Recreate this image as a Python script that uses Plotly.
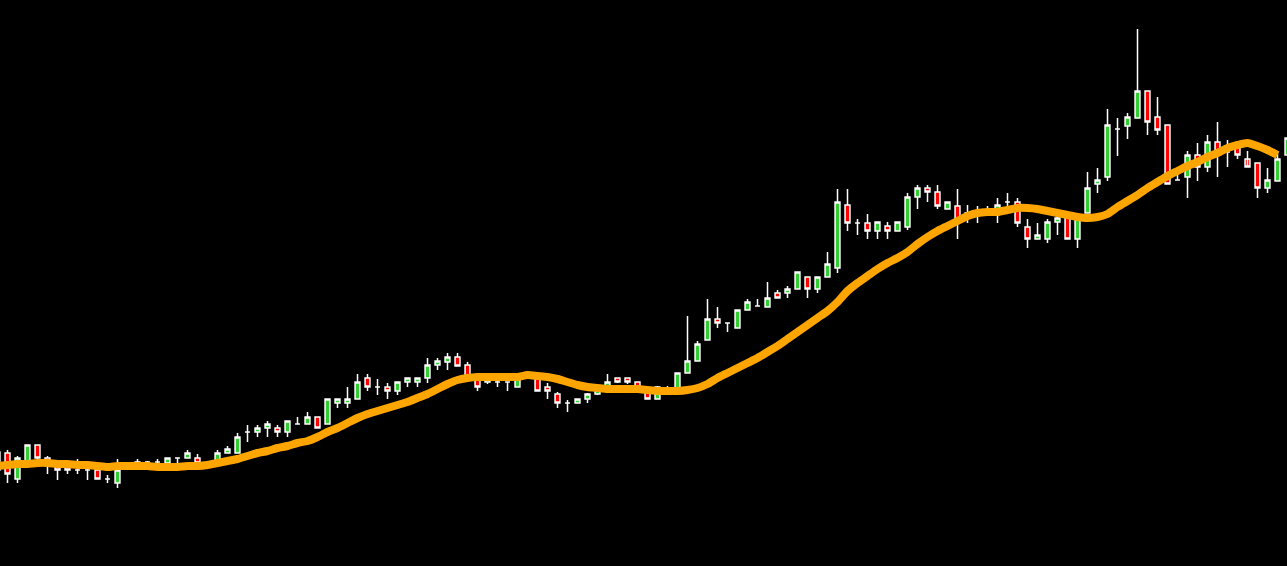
import plotly.graph_objects as go

# candle index (one per bar)
idx = list(range(-1, 129))

opens = [130, 147, 121, 137, 155, 142, 134, 134, 130, 130, 130, 121, 117, 132, 138, 138, 138, 137, 142, 142, 142,
         137, 137, 147, 147, 168, 168, 172, 172, 168, 176, 176, 183, 176, 197, 197, 201, 222, 213, 213, 209,
         218, 218, 222, 235, 238, 243, 235, 220, 218, 218, 218, 213, 224, 222, 213, 206, 197, 197, 201, 206,
         214, 222, 222, 218, 210, 201, 212, 212, 227, 239, 260, 281, 277, 272, 290, 294, 293, 307, 307, 311,
         323, 311, 323, 332, 395, 377, 377, 369, 374, 369, 373, 403, 412, 408, 391, 394, 387, 387, 388, 388,
         398, 398, 373, 361, 361, 378, 382, 361, 387, 416, 423, 471, 474, 482, 509, 483, 475, 420, 423, 445,
         433, 458, 448, 453, 441, 437, 412, 419, 445]
highs = [151, 150, 144, 155, 155, 144, 136, 136, 141, 135, 133, 125, 141, 136, 141, 139, 141, 142, 142, 150, 146,
         138, 150, 154, 167, 175, 175, 179, 175, 179, 183, 188, 183, 201, 201, 213, 226, 226, 221, 217, 218,
         222, 222, 242, 242, 247, 247, 238, 222, 224, 220, 218, 224, 228, 224, 217, 208, 200, 201, 207, 212,
         226, 222, 222, 218, 212, 214, 214, 227, 284, 259, 301, 293, 277, 290, 301, 301, 318, 310, 314, 328,
         323, 323, 348, 411, 411, 381, 386, 378, 378, 378, 407, 415, 415, 415, 398, 411, 395, 394, 394, 402,
         407, 402, 381, 377, 381, 384, 384, 385, 428, 432, 491, 482, 487, 571, 509, 503, 475, 428, 449, 457,
         465, 478, 460, 453, 449, 437, 432, 449, 462]
lows = [122, 117, 117, 135, 138, 126, 120, 126, 126, 120, 121, 117, 112, 130, 134, 134, 134, 135, 137, 142, 137,
        133, 137, 147, 147, 158, 163, 163, 163, 163, 176, 176, 172, 176, 192, 192, 201, 209, 205, 201, 205,
        213, 213, 217, 230, 230, 234, 222, 209, 216, 213, 209, 213, 222, 209, 201, 192, 188, 197, 197, 205,
        213, 217, 216, 210, 201, 201, 210, 211, 227, 239, 260, 272, 268, 272, 290, 294, 293, 302, 302, 311,
        302, 307, 323, 327, 369, 365, 361, 361, 361, 369, 370, 391, 398, 391, 391, 361, 377, 377, 384, 377,
        394, 373, 352, 361, 357, 365, 361, 352, 387, 407, 419, 444, 461, 482, 465, 465, 416, 420, 402, 419,
        428, 423, 433, 441, 441, 402, 407, 419, 445]
closes = [148, 126, 142, 155, 142, 138, 130, 130, 130, 130, 121, 121, 130, 133, 137, 138, 138, 142, 142, 147, 137,
          134, 147, 151, 163, 168, 172, 176, 168, 179, 176, 183, 172, 201, 201, 201, 218, 213, 213, 209, 218,
          222, 222, 235, 239, 243, 234, 222, 213, 222, 218, 218, 222, 225, 209, 209, 197, 197, 201, 206, 210,
          218, 218, 218, 212, 201, 213, 212, 227, 239, 256, 281, 277, 277, 290, 298, 294, 302, 302, 311, 328,
          311, 323, 336, 398, 377, 377, 369, 378, 369, 378, 403, 412, 408, 394, 398, 378, 386, 387, 388, 395,
          398, 377, 361, 365, 378, 382, 361, 385, 412, 420, 475, 471, 483, 509, 478, 470, 416, 420, 445, 433,
          458, 448, 448, 445, 433, 412, 420, 441, 462]

# moving-average line, one value per candle index
ma_idx = list(range(-1, 128))
ma = [134, 135, 136, 136, 137, 137, 136, 136, 135, 135, 134, 133, 134, 134, 134, 134, 133, 133, 133, 134, 134,
      135, 137, 139, 141, 144, 147, 149, 152, 154, 157, 159, 163, 168, 172, 177, 182, 186, 189, 192, 195,
      198, 202, 206, 211, 216, 220, 222, 223, 223, 223, 223, 223, 225, 224, 223, 221, 218, 215, 213, 212,
      211, 211, 211, 211, 210, 209, 209, 209, 210, 212, 216, 222, 227, 232, 237, 242, 248, 254, 261, 268,
      275, 282, 289, 298, 309, 317, 324, 331, 337, 342, 348, 356, 363, 369, 374, 379, 384, 387, 388, 388,
      390, 392, 392, 391, 389, 387, 385, 383, 382, 383, 386, 393, 399, 405, 412, 418, 424, 429, 434, 438,
      443, 447, 452, 455, 457, 454, 450, 445, 441]

GREEN = "#33CC33"
RED = "#FF0000"
ORANGE = "#FFA500"

fig = go.Figure()
fig.add_trace(go.Candlestick(
    x=idx, open=opens, high=highs, low=lows, close=closes,
    increasing=dict(line=dict(color="white", width=1.5), fillcolor=GREEN),
    decreasing=dict(line=dict(color="white", width=1.5), fillcolor=RED),
    whiskerwidth=0, showlegend=False, hoverinfo="skip",
))
fig.add_trace(go.Scatter(
    x=ma_idx, y=ma, mode="lines",
    line=dict(color=ORANGE, width=8, shape="spline", smoothing=0.6),
    showlegend=False, hoverinfo="skip",
))

fig.update_layout(
    width=1287, height=566,
    margin=dict(l=0, r=0, t=0, b=0),
    paper_bgcolor="black", plot_bgcolor="black",
    xaxis=dict(range=[-0.75, 127.95], visible=False, rangeslider=dict(visible=False), fixedrange=True),
    yaxis=dict(range=[34, 600], visible=False, fixedrange=True),
    showlegend=False,
)

fig.write_html(
    "out.html",
    config=dict(displayModeBar=False),
    post_script="document.body.style.margin='0';document.body.style.background='black';document.body.style.overflow='hidden';",
)
